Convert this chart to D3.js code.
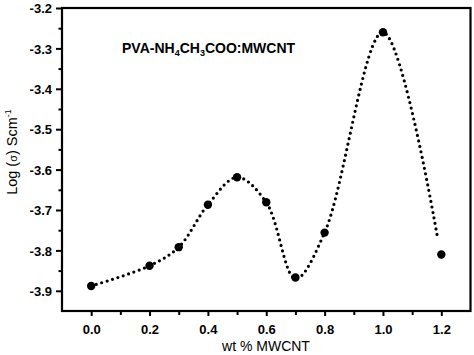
<!DOCTYPE html>
<html><head><meta charset="utf-8">
<script src="https://cdn.jsdelivr.net/npm/d3@7"></script>
<style>body{margin:0;background:#fff}svg{display:block}</style>
</head><body>
<svg id="c" width="474" height="355"></svg>
<script>
const wt = [0.0, 0.2, 0.3, 0.4, 0.5, 0.6, 0.7, 0.8, 1.0, 1.2];
const logSigma = [-3.888, -3.838, -3.792, -3.687, -3.619, -3.681, -3.867, -3.756, -3.260, -3.810];
// dotted guide curve drawn through these points
const curveX = [0.0, 0.2, 0.3, 0.4, 0.5, 0.6, 0.7, 0.8, 1.0, 1.186];
const curveY = [-3.888, -3.838, -3.792, -3.687, -3.619, -3.681, -3.870, -3.756, -3.260, -3.764];
const xTicks = [0.0, 0.2, 0.4, 0.6, 0.8, 1.0, 1.2];
const yTicks = [-3.2, -3.3, -3.4, -3.5, -3.6, -3.7, -3.8, -3.9];

const svg = d3.select("#c");
const L = 62, R = 470.5, T = 8, B = 311;
const x = d3.scaleLinear().domain([-0.1, 1.3]).range([L, R]);
const y = d3.scaleLinear().domain([-3.95, -3.2]).range([B, T]);
const font = "'Liberation Sans', Arial, sans-serif";
const fmt = v => v.toFixed(1);

// minor ticks
const xMinor = d3.range(-0.1, 1.31, 0.1).map(v => +v.toFixed(2)).filter(v => !xTicks.some(t => Math.abs(t - v) < 1e-6) && v > -0.1 && v < 1.3);
const yMinor = d3.range(-3.95, -3.19, 0.05).map(v => +v.toFixed(3)).filter(v => !yTicks.some(t => Math.abs(t - v) < 1e-6) && v > -3.95 && v < -3.2);

const gx = svg.append("g").attr("transform", `translate(0,${B})`);
gx.call(d3.axisBottom(x).tickValues(xTicks).tickFormat(fmt).tickSize(5).tickPadding(9));
gx.append("g").call(d3.axisBottom(x).tickValues(xMinor).tickFormat("").tickSize(4));
const gy = svg.append("g").attr("transform", `translate(${L},0)`);
gy.call(d3.axisLeft(y).tickValues(yTicks).tickFormat(fmt).tickSize(6).tickPadding(4));
gy.append("g").call(d3.axisLeft(y).tickValues(yMinor).tickFormat("").tickSize(3.5));
svg.selectAll(".domain").remove();
svg.selectAll(".tick line").attr("stroke", "#000").attr("stroke-width", 2);
svg.selectAll(".tick text").attr("font-family", font).attr("font-weight", "bold").attr("font-size", 13).attr("fill", "#000");
gy.selectAll(".tick text").attr("dy", "0.36em");

// frame
svg.append("rect").attr("x", L).attr("y", T).attr("width", R - L).attr("height", B - T)
  .attr("fill", "none").attr("stroke", "#000").attr("stroke-width", 2.2);

// dotted curve
const pts = curveX.map((v, i) => [v, curveY[i]]);
svg.append("path").datum(pts)
  .attr("d", d3.line().x(d => x(d[0])).y(d => y(d[1])).curve(d3.curveCatmullRom.alpha(0.5)))
  .attr("fill", "none").attr("stroke", "#000").attr("stroke-width", 3.2)
  .attr("stroke-linecap", "round").attr("stroke-dasharray", "0 5.6");

// markers
svg.selectAll("circle.pt").data(wt).enter().append("circle")
  .attr("cx", d => x(d)).attr("cy", (d, i) => y(logSigma[i])).attr("r", 4.2).attr("fill", "#000");

// title
const t = svg.append("text").attr("x", 122).attr("y", 53).attr("font-family", font)
  .attr("font-weight", "bold").attr("font-size", 14).attr("fill", "#000");
t.append("tspan").text("PVA-NH");
t.append("tspan").attr("font-size", 9).attr("dy", 3).text("4");
t.append("tspan").attr("dy", -3).text("CH");
t.append("tspan").attr("font-size", 9).attr("dy", 3).text("3");
t.append("tspan").attr("dy", -3).text("COO:MWCNT");

// axis labels
svg.append("text").attr("x", 266).attr("y", 351).attr("text-anchor", "middle")
  .attr("font-family", font).attr("font-size", 14).attr("fill", "#000").text("wt % MWCNT");
const yl = svg.append("text").attr("transform", `translate(17,152) rotate(-90)`).attr("text-anchor", "middle")
  .attr("font-family", font).attr("font-size", 14.5).attr("fill", "#000");
yl.append("tspan").text("Log (");
yl.append("tspan").attr("font-size", 11).text("σ");
yl.append("tspan").text(") Scm");
yl.append("tspan").attr("font-size", 9).attr("dy", -6).text("-1");
</script>
</body></html>
